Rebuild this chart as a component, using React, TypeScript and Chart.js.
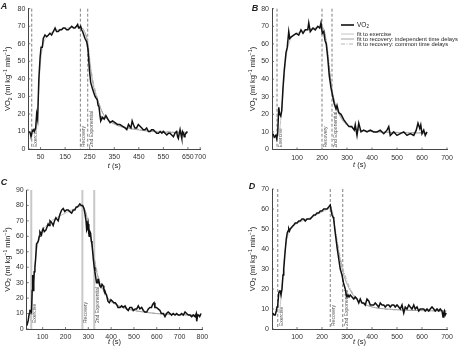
import React, { useEffect, useRef } from "react";
import { Chart, registerables } from "chart.js";
Chart.register(...registerables);

type P = [number, number][];

// ---------- Panel A ----------
const vo2A: P = [[0,10],[7,9.5],[11,7],[16,10],[20,11],[24,10],[30,12],[34,20],[38,17],[43,40],[48,52],[52,58],[57,58],[61,63],[68,65],[75,64],[82,65],[88,66],[95,65],[102,67],[109,69],[115,67],[122,67],[129,68],[136,68],[142,69],[149,69],[156,68],[163,68],[170,69],[177,70],[184,69],[190,69],[196,70],[201,71],[205,69],[208,69],[213,70],[217,68],[221,67],[226,65],[231,63],[238,61],[243,57],[249,45],[254,38],[258,36],[262,34],[267,32],[272,30],[276,29],[281,28],[284,25],[288,24],[292,19],[295,16],[299,17],[303,18],[309,17],[316,19],[324,17],[333,15],[343,16],[353,15],[363,14],[373,14],[383,13],[394,12],[401,11],[408,14],[413,13],[418,12],[423,16],[428,14],[434,12],[441,12],[448,14],[455,13],[462,12],[468,11],[475,11],[482,12],[489,10],[496,10],[502,11],[509,11],[516,10],[523,9],[530,9],[537,10],[544,9],[550,10],[557,9],[564,8],[571,9],[577,9],[584,8],[591,7],[597,9],[604,10],[608,7],[611,6],[615,9],[618,11],[622,8],[625,6],[628,10],[632,9],[635,7],[638,8],[642,9],[648,10]];
const fitExA: P = [[14,10],[32,10],[38,20],[44,38],[50,50],[58,58],[70,63],[90,66],[120,68],[160,69],[212,70]];
const fitIndA: P = [[212,70],[225,68],[240,62],[250,50],[262,38],[275,31],[290,25],[305,20],[330,16],[370,13],[420,11.5],[500,10],[580,9.5],[648,9]];
const fitComA: P = [[212,70],[228,67],[243,60],[255,46],[268,36],[282,29],[298,22],[320,17],[360,14],[420,12],[500,10.5],[648,9.5]];
const linesA = [14, 212, 242];
const xTicksA = [50, 150, 250, 350, 450, 550, 650, 700];

// ---------- Panel B ----------
const vo2B: P = [[4,9],[9,7],[15,8],[19,6],[23,10],[27,24],[31,20],[35,19],[39,22],[44,35],[49,45],[56,55],[61,58],[67,67],[71,63],[77,64],[87,65],[97,66],[107,65],[116,68],[124,66],[133,68],[143,68],[147,72],[153,67],[164,69],[173,68],[183,70],[191,69],[196,72],[201,66],[207,67],[212,62],[217,60],[223,52],[229,42],[236,35],[243,30],[249,26],[256,23],[260,25],[267,21],[276,20],[287,17],[297,15],[308,13],[319,13],[329,11],[333,14],[340,8],[347,15],[356,10],[367,11],[380,10],[393,11],[407,10],[420,10],[433,11],[447,9],[460,11],[467,13],[473,8],[487,10],[500,8],[513,9],[527,10],[540,8],[553,9],[567,8],[577,11],[584,15],[591,12],[595,14],[600,9],[607,11],[613,8],[620,10]];
const fitExB: P = [[20,8],[27,8],[33,14],[40,25],[48,40],[56,52],[65,59],[80,64],[100,66],[140,68],[200,70]];
const fitIndB: P = [[200,70],[210,67],[220,58],[230,45],[240,34],[252,26],[265,21],[285,16],[310,13],[350,11],[420,10],[520,9.5],[620,9.3]];
const fitComB: P = [[200,70],[212,66],[222,57],[232,44],[242,33],[255,25],[270,20],[290,15.5],[320,12.5],[370,10.8],[450,10],[620,9.5]];
const linesB = [20, 200, 240];
const xTicksB = [100, 200, 300, 400, 500, 600, 700];

// ---------- Panel C ----------
const vo2C: P = [[30,2],[36,5],[41,10],[44,12],[48,12],[51,11],[54,25],[56,35],[59,25],[61,30],[63,37],[66,40],[69,45],[73,55],[77,56],[81,57],[85,60],[88,63],[92,62],[95,61],[99,64],[102,65],[107,63],[114,64],[119,66],[124,68],[128,67],[132,70],[139,69],[146,67],[152,70],[158,72],[163,71],[168,70],[175,74],[183,77],[190,78],[197,76],[204,77],[212,77],[219,76],[227,75],[234,77],[241,77],[247,79],[252,79],[258,80],[263,81],[269,80],[275,80],[281,78],[285,75],[288,72],[290,70],[293,64],[296,65],[299,68],[302,62],[304,60],[307,63],[310,62],[313,57],[316,55],[319,50],[322,45],[326,40],[329,37],[333,33],[336,30],[339,30],[342,32],[345,32],[350,28],[355,27],[360,29],[365,28],[368,26],[372,25],[376,23],[380,22],[386,18],[392,17],[399,19],[406,18],[412,17],[418,17],[424,16],[430,14],[439,14],[446,15],[453,14],[461,15],[468,13],[475,12],[482,14],[490,14],[497,12],[505,13],[512,13],[519,15],[526,13],[534,14],[541,12],[548,11],[556,11],[563,13],[570,14],[577,14],[582,16],[588,17],[592,14],[599,14],[606,13],[614,12],[620,10],[629,10],[636,8],[643,10],[650,11],[658,10],[665,9],[672,10],[680,9],[687,10],[694,9],[702,9],[709,10],[716,9],[724,11],[731,10],[739,9],[746,9],[753,8],[760,9],[768,8],[773,10],[775,5],[779,9],[782,9],[788,8],[794,10]];
const fitExC: P = [[47,5],[52,14],[58,28],[66,42],[75,52],[88,60],[105,65],[130,69],[160,72],[200,75],[240,78],[275,80]];
const fitIndC: P = [[275,80],[288,76],[300,68],[312,58],[325,46],[338,36],[352,29],[370,24],[390,19],[420,16],[460,13.5],[520,11.5],[600,10],[700,9.2],[794,9]];
const fitComC: P = [[275,80],[290,75],[303,66],[316,55],[329,44],[342,35],[358,28],[378,22],[400,18],[440,14.5],[500,12],[580,10.3],[700,9.3],[794,9]];
const linesC = [50, 274, 326];
const xTicksC = [100, 200, 300, 400, 500, 600, 700, 800];

// ---------- Panel D ----------
const vo2D: P = [[4,8],[8,7],[13,7],[17,9],[20,11],[23,12],[27,18],[30,19],[33,19],[36,17],[40,20],[44,27],[47,30],[52,38],[57,45],[61,48],[64,49],[67,50],[70,49],[73,50],[80,51],[87,52],[93,53],[100,53],[107,54],[113,54],[120,55],[127,55],[133,54],[140,55],[147,55],[153,55],[160,56],[167,57],[173,57],[180,58],[187,58],[193,59],[200,59],[207,60],[213,60],[220,60],[227,61],[233,62],[237,59],[240,57],[244,56],[247,55],[251,50],[256,45],[261,40],[267,35],[273,30],[280,27],[286,23],[293,20],[297,17],[300,16],[304,17],[308,16],[313,17],[320,16],[327,15],[333,16],[340,15],[347,13],[353,15],[360,13],[367,13],[373,12],[380,15],[387,14],[393,12],[400,12],[407,12],[413,13],[420,12],[427,11],[433,13],[440,12],[447,12],[453,11],[460,12],[467,12],[473,11],[480,12],[487,12],[493,11],[500,12],[507,11],[513,10],[520,12],[527,8],[533,11],[540,10],[547,12],[553,11],[560,10],[567,12],[573,10],[580,11],[587,9],[593,10],[600,10],[607,10],[613,9],[620,10],[627,9],[633,10],[640,11],[647,10],[653,9],[660,10],[667,9],[673,10],[680,9],[684,6],[687,8],[690,9],[693,7],[697,8]];
const fitExD: P = [[23,8],[30,9],[37,17],[45,30],[53,40],[62,46],[72,50],[90,52],[120,54],[160,56],[200,58.5],[233,60.5]];
const fitIndD: P = [[233,62],[242,58],[252,50],[262,42],[272,35],[283,29],[295,24],[310,20],[330,16],[360,13],[400,11],[460,10],[560,9.3],[697,9]];
const fitComD: P = [[233,62],[245,56],[257,47],[268,39],[280,32],[292,27],[306,22],[325,17.5],[350,14],[390,11.5],[450,10],[560,9.3],[697,9]];
const linesD = [23, 233, 283];
const xTicksD = [100, 200, 300, 400, 500, 600, 700];

const lineLabels = ["Exercise", "Recovery", "2nd Exponential"];
const legendLabels = ["VO", "fit to exercise", "fit to recovery: independent time delays", "fit to recovery: common time delays"];

const FONT = '"Liberation Sans", Arial, Helvetica, sans-serif';

interface Cfg {
  letter: string;
  left: number; top: number; w: number; h: number;
  area: { l: number; r: number; t: number; b: number };
  xMin: number; xMax: number; xTicks: number[];
  yMax: number;
  data: P; fitEx: P; fitInd: P; fitCom: P;
  vlines: number[];
  solid: boolean;
  labelOff: number;
  yTitleX: number; xTitleY: number;
  letterX: number; letterY: number;
  legend: boolean;
}

const panels: Cfg[] = [
  { letter: "A", left: 0, top: 0, w: 237, h: 175, area: { l: 28.3, r: 200.2, t: 8.7, b: 149 },
    xMin: 0, xMax: 700, xTicks: xTicksA, yMax: 80, data: vo2A, fitEx: fitExA, fitInd: fitIndA, fitCom: fitComA,
    vlines: linesA, solid: false, labelOff: 2, yTitleX: 7.5, xTitleY: 165.5, letterX: 4, letterY: 6.5, legend: false },
  { letter: "B", left: 237, top: 0, w: 237, h: 175, area: { l: 35, r: 210, t: 8.7, b: 149.5 },
    xMin: 0, xMax: 700, xTicks: xTicksB, yMax: 80, data: vo2B, fitEx: fitExB, fitInd: fitIndB, fitCom: fitComB,
    vlines: linesB, solid: false, labelOff: 2, yTitleX: 15.7, xTitleY: 164.5, letterX: 18, letterY: 8.5, legend: true },
  { letter: "C", left: 0, top: 175, w: 237, h: 174, area: { l: 26.7, r: 202.4, t: 15, b: 154 },
    xMin: 30, xMax: 800, xTicks: xTicksC, yMax: 90, data: vo2C, fitEx: fitExC, fitInd: fitIndC, fitCom: fitComC,
    vlines: linesC, solid: true, labelOff: 6, yTitleX: 7, xTitleY: 166.5, letterX: 4, letterY: 7.5, legend: false },
  { letter: "D", left: 237, top: 175, w: 237, h: 174, area: { l: 35, r: 210, t: 14, b: 154 },
    xMin: 0, xMax: 700, xTicks: xTicksD, yMax: 70, data: vo2D, fitEx: fitExD, fitInd: fitIndD, fitCom: fitComD,
    vlines: linesD, solid: false, labelOff: 3, yTitleX: 15, xTitleY: 166.5, letterX: 15, letterY: 11.5, legend: false },
];

const XH = 20;
const toXY = (p: P) => p.map(([x, y]) => ({ x, y }));

function drawSegments(ctx: CanvasRenderingContext2D, segs: [string, number][], size: number, color: string) {
  const small = size * 0.68;
  let total = 0;
  for (const [s, k] of segs) {
    ctx.font = `${k ? small : size}px ${FONT}`;
    total += ctx.measureText(s).width;
  }
  let x = -total / 2;
  ctx.fillStyle = color;
  ctx.textAlign = "left";
  ctx.textBaseline = "alphabetic";
  for (const [s, k] of segs) {
    ctx.font = `${k ? small : size}px ${FONT}`;
    const dy = k === 1 ? size * 0.25 : k === 2 ? -size * 0.38 : 0;
    ctx.fillText(s, x, dy);
    x += ctx.measureText(s).width;
  }
}

function makeExtras(cfg: Cfg) {
  return {
    id: "extras",
    beforeDatasetsDraw(chart: any) {
      const { ctx, chartArea: a, scales } = chart;
      const x = scales.x;
      cfg.vlines.forEach((t, i) => {
        const px = x.getPixelForValue(t);
        ctx.save();
        ctx.strokeStyle = cfg.solid ? "#c8c8c8" : "#808080";
        ctx.lineWidth = cfg.solid ? 2 : 1;
        ctx.setLineDash(cfg.solid ? [] : [3, 2]);
        ctx.beginPath();
        ctx.moveTo(px, a.top);
        ctx.lineTo(px, a.bottom);
        ctx.stroke();
        ctx.setLineDash([]);
        ctx.translate(px + 1.2, a.bottom - cfg.labelOff);
        ctx.rotate(-Math.PI / 2);
        ctx.font = `5px ${FONT}`;
        ctx.fillStyle = "#555";
        ctx.textBaseline = "top";
        ctx.textAlign = "left";
        ctx.fillText(lineLabels[i], 0, 0);
        ctx.restore();
      });
    },
    afterDraw(chart: any) {
      const { ctx, chartArea: a, scales } = chart;
      ctx.save();
      ctx.strokeStyle = "#555";
      ctx.lineWidth = 0.8;
      scales.x.ticks.forEach((tk: any) => {
        const px = scales.x.getPixelForValue(tk.value);
        ctx.beginPath();
        ctx.moveTo(px, a.bottom);
        ctx.lineTo(px, a.bottom - 2);
        ctx.stroke();
      });
      scales.y.ticks.forEach((tk: any) => {
        const py = scales.y.getPixelForValue(tk.value);
        ctx.beginPath();
        ctx.moveTo(a.left, py);
        ctx.lineTo(a.left + 2, py);
        ctx.stroke();
      });
      ctx.save();
      ctx.translate(cfg.yTitleX + 2.5, (a.top + a.bottom) / 2);
      ctx.rotate(-Math.PI / 2);
      drawSegments(ctx, [["VO", 0], ["2", 1], [" (ml kg", 0], ["\u22121", 2], [" min", 0], ["\u22121", 2], [")", 0]], 7.5, "#222");
      ctx.restore();
      ctx.fillStyle = "#222";
      ctx.textBaseline = "middle";
      ctx.textAlign = "left";
      ctx.font = `italic 7.5px ${FONT}`;
      const tW = ctx.measureText("t").width;
      ctx.font = `7.5px ${FONT}`;
      const rW = ctx.measureText(" (s)").width;
      const cx = (a.left + a.right) / 2 - (tW + rW) / 2;
      ctx.font = `italic 7.5px ${FONT}`;
      ctx.fillText("t", cx, cfg.xTitleY);
      ctx.font = `7.5px ${FONT}`;
      ctx.fillText(" (s)", cx + tW, cfg.xTitleY);
      ctx.font = `italic bold 9px ${FONT}`;
      ctx.textAlign = "center";
      ctx.fillText(cfg.letter, cfg.letterX, cfg.letterY);
      if (cfg.legend) {
        const lx0 = 341 - cfg.left, lx1 = 354 - cfg.left, tx = 357 - cfg.left;
        const rows = [25, 34, 39, 44];
        const styles = [
          { c: "#111", w: 1.6, d: [] as number[] },
          { c: "#c4c4c4", w: 1, d: [] as number[] },
          { c: "#a6a6a6", w: 1, d: [] as number[] },
          { c: "#b4b4b4", w: 1, d: [4, 1.5, 1, 1.5] },
        ];
        rows.forEach((y, i) => {
          ctx.strokeStyle = styles[i].c;
          ctx.lineWidth = styles[i].w;
          ctx.setLineDash(styles[i].d);
          ctx.beginPath();
          ctx.moveTo(lx0, y);
          ctx.lineTo(lx1, y);
          ctx.stroke();
          ctx.setLineDash([]);
          ctx.fillStyle = "#222";
          ctx.textAlign = "left";
          ctx.textBaseline = "middle";
          if (i === 0) {
            ctx.font = `6.5px ${FONT}`;
            ctx.fillText(legendLabels[0], tx, y);
            const w = ctx.measureText(legendLabels[0]).width;
            ctx.font = `4.5px ${FONT}`;
            ctx.fillText("2", tx + w, y + 1.8);
          } else {
            ctx.font = `5.8px ${FONT}`;
            ctx.fillText(legendLabels[i], tx, y);
          }
        });
      }
      ctx.restore();
    },
  };
}

function Panel({ cfg }: { cfg: Cfg }) {
  const ref = useRef<HTMLCanvasElement>(null);
  useEffect(() => {
    const a = cfg.area;
    const tickFont = { size: 7, family: FONT };
    const chart = new Chart(ref.current as HTMLCanvasElement, {
      type: "line",
      data: {
        datasets: [
          { data: toXY(cfg.data) as any, borderColor: "#111", borderWidth: 1.5, pointRadius: 0, tension: 0, order: 0 },
          { data: toXY(cfg.fitEx) as any, borderColor: "#c4c4c4", borderWidth: 1, pointRadius: 0, cubicInterpolationMode: "monotone", order: 1 },
          { data: toXY(cfg.fitInd) as any, borderColor: "#a6a6a6", borderWidth: 1, pointRadius: 0, cubicInterpolationMode: "monotone", order: 2 },
          { data: toXY(cfg.fitCom) as any, borderColor: "#b4b4b4", borderWidth: 1, borderDash: [4, 1.5, 1, 1.5], pointRadius: 0, cubicInterpolationMode: "monotone", order: 3 },
        ],
      },
      options: {
        responsive: false,
        animation: false,
        devicePixelRatio: 1,
        layout: { padding: { left: 0, top: a.t, right: cfg.w - a.r, bottom: cfg.h - a.b - XH } },
        plugins: { legend: { display: false }, tooltip: { enabled: false } },
        scales: {
          x: {
            type: "linear",
            min: cfg.xMin,
            max: cfg.xMax,
            afterBuildTicks: (s: any) => { s.ticks = cfg.xTicks.map((v) => ({ value: v })); },
            afterFit: (s: any) => { s.height = XH; },
            grid: { display: false, drawTicks: false },
            border: { display: true, color: "#444", width: 1 },
            ticks: { font: tickFont, color: "#333", padding: 4, maxRotation: 0, autoSkip: false, callback: (v: any) => String(v) },
          },
          y: {
            type: "linear",
            min: 0,
            max: cfg.yMax,
            afterBuildTicks: (s: any) => {
              const t = [];
              for (let v = 0; v <= cfg.yMax; v += 10) t.push({ value: v });
              s.ticks = t;
            },
            afterFit: (s: any) => { s.width = a.l; },
            grid: { display: false, drawTicks: false },
            border: { display: true, color: "#444", width: 1 },
            ticks: { font: tickFont, color: "#333", padding: 3, autoSkip: false, callback: (v: any) => String(v) },
          },
        },
      } as any,
      plugins: [makeExtras(cfg)],
    });
    return () => chart.destroy();
  }, []);
  return (
    <div style={{ position: "absolute", left: cfg.left, top: cfg.top, width: cfg.w, height: cfg.h }}>
      <canvas ref={ref} width={cfg.w} height={cfg.h} style={{ width: cfg.w, height: cfg.h, display: "block" }} />
    </div>
  );
}

export default function App() {
  return (
    <div style={{ position: "fixed", left: 0, top: 0, width: 474, height: 349, background: "#fff", overflow: "hidden" }}>
      {panels.map((p) => (
        <Panel key={p.letter} cfg={p} />
      ))}
    </div>
  );
}
